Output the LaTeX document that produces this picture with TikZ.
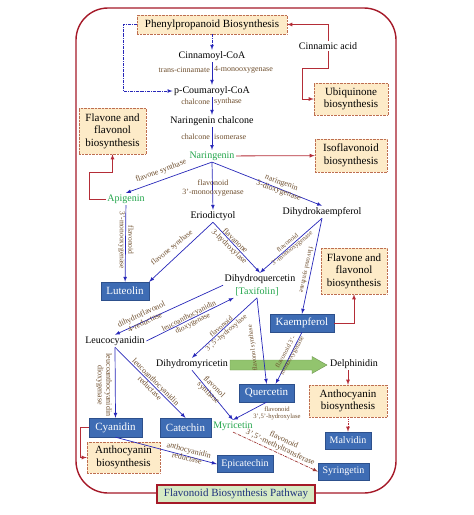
\documentclass[tikz,border=0pt]{standalone}
\usepackage{fontspec}
\setmainfont{Liberation Serif}
\usetikzlibrary{arrows}

\definecolor{flowblue}{RGB}{40,40,185}
\definecolor{boxblue}{RGB}{62,108,180}
\definecolor{boxline}{RGB}{45,80,140}
\definecolor{yfill}{RGB}{253,235,200}
\definecolor{yline}{RGB}{190,110,80}
\definecolor{redline}{RGB}{180,45,55}
\definecolor{enzcol}{RGB}{110,78,45}
\definecolor{txtgreen}{RGB}{35,165,75}
\definecolor{garrfill}{RGB}{146,196,110}
\definecolor{garrline}{RGB}{110,150,80}
\definecolor{pathfill}{RGB}{214,234,196}
\definecolor{pathtext}{RGB}{30,50,125}
\definecolor{outred}{RGB}{165,25,40}

\begin{document}
\begin{tikzpicture}[x=1pt,y=-1pt,>=latex,
    cmpd/.style={font=\fontsize{10}{11}\selectfont,inner sep=1.5pt},
    grn/.style={cmpd,text=txtgreen},
    bbox/.style={draw=boxline,fill=boxblue,text=white,font=\fontsize{11}{12}\selectfont,minimum height=18pt,inner sep=0pt},
    sbox/.style={bbox,font=\fontsize{10}{11}\selectfont,minimum height=17pt},
    ybox/.style={draw=yline,densely dotted,fill=yfill,align=center,font=\fontsize{11}{12.5}\selectfont,inner sep=0pt},
    enz/.style={text=enzcol,font=\fontsize{8}{8.5}\selectfont,align=center,inner sep=0pt},
    senz/.style={enz,font=\fontsize{6.6}{7.2}\selectfont},
    flow/.style={->,draw=flowblue,line width=0.7pt},
    dflow/.style={flow,densely dash dot},
    rflow/.style={->,draw=redline,line width=0.8pt},
    mflow/.style={->,draw=redline!70!enzcol,line width=0.7pt,densely dash dot}]
    \useasboundingbox (0,0) rectangle (474,515);

    % Cadre
    \draw[outred,line width=1.4pt,rounded corners=32pt] (76,8) rectangle (396,493);

    % Grosse fleche verte
    \draw[draw=garrline,fill=garrfill] (230,360) -- (312,360) -- (312,356.5) -- (327,365)
        -- (312,373.5) -- (312,370) -- (230,370) -- cycle;

    % Boites jaunes
    \node[ybox,minimum width=150pt,minimum height=19pt] (php) at (212,24.5) {Phenylpropanoid Biosynthesis};
    \node[ybox,minimum width=74pt,minimum height=32pt] (ubi) at (351,99) {Ubiquinone\\biosynthesis};
    \node[ybox,minimum width=67pt,minimum height=46pt] (ffl) at (112.5,131) {Flavone and\\flavonol\\biosynthesis};
    \node[ybox,minimum width=72pt,minimum height=33pt] (iso) at (351,155.5) {Isoflavonoid\\biosynthesis};
    \node[ybox,minimum width=66pt,minimum height=46pt] (ffr) at (354,271) {Flavone and\\flavonol\\biosynthesis};
    \node[ybox,minimum width=78pt,minimum height=32pt] (antr) at (348,401) {Anthocyanin\\biosynthesis};
    \node[ybox,minimum width=73pt,minimum height=31pt] (antl) at (123.5,457.5) {Anthocyanin\\biosynthesis};

    % Composes
    \node[cmpd] (cina) at (328,46) {Cinnamic acid};
    \node[cmpd] (cin) at (212,56) {Cinnamoyl-CoA};
    \node[cmpd] (cou) at (212,91) {p-Coumaroyl-CoA};
    \node[cmpd] (nch) at (212,121) {Naringenin chalcone};
    \node[grn] (nar) at (212,156) {Naringenin};
    \node[grn] (api) at (126,199) {Apigenin};
    \node[cmpd] (eri) at (213,216) {Eriodictyol};
    \node[cmpd] (dhk) at (322,212) {Dihydrokaempferol};
    \node[cmpd] (dhq) at (260,279) {Dihydroquercetin};
    \node[grn] (tax) at (257,292) {[Taxifolin]};
    \node[cmpd] (leu) at (115,341) {Leucocyanidin};
    \node[cmpd] (dhm) at (192,364) {Dihydromyricetin};
    \node[cmpd] (del) at (354,364) {Delphinidin};
    \node[grn] (myr) at (233,426) {Myricetin};

    % Boites bleues
    \node[bbox,minimum width=48pt] (lut) at (125,291) {Luteolin};
    \node[bbox,minimum width=64pt] (kae) at (302,323) {Kaempferol};
    \node[bbox,minimum width=55pt] (que) at (266.5,393) {Quercetin};
    \node[bbox,minimum width=53pt,minimum height=19pt] (cya) at (115.5,427.5) {Cyanidin};
    \node[bbox,minimum width=51pt,minimum height=19pt] (cat) at (185.5,427.5) {Catechin};
    \node[sbox,minimum width=56pt] (epi) at (245,464) {Epicatechin};
    \node[sbox,minimum width=46pt] (mal) at (348,440.5) {Malvidin};
    \node[sbox,minimum width=51pt] (syr) at (343.5,471.5) {Syringetin};

    % Voie bleue
    \draw[dflow] (php) -- (cin);
    \draw[dflow] (php.west) -- ++(-13,0) |- (cou.west);
    \draw[flow] (cin) -- (cou);
    \draw[flow] (cou) -- (nch);
    \draw[flow] (nch) -- (nar);
    \draw[flow] (nar.south) -- (api.north);
    \draw[flow] (nar.south) -- (eri.north);
    \draw[flow] (nar.south) -- (dhk.north);
    \draw[flow] (api) -- (lut);
    \draw[flow] (eri.south) -- (lut.north east);
    \draw[flow] (eri.south) -- (dhq.north);
    \draw[flow] (dhk.south) -- (dhq.north);
    \draw[flow] (dhk.south) -- (kae.north);
    \draw[flow] (dhq.south west) -- (leu.north);
    \draw[flow] (leu.east) -- (tax.south west);
    \draw[flow] (tax.south) -- (dhm.north);
    \draw[flow] (tax.south) -- (que.north);
    \draw[flow] (kae.south) -- (que.45);
    \draw[flow] (dhm.south) -- (myr.north);
    \draw[flow] (que.south) -- (myr.north);
    \draw[flow] (leu.south) -- (cya.north);
    \draw[flow] (leu.south) -- (cat.north);
    \draw[flow] (cya.south) -- (epi.west);

    % Fleches rouges
    \draw[rflow] (cina.north) |- (php.east);
    \draw[rflow] (cina.south) |- (302,68) |- (ubi.west);
    \draw[rflow] (nar) -- (iso);
    \draw[rflow] (api.west) -| (89,172) -| (ffl.south);
    \draw[rflow] (kae.east) -| (ffr.south);
    \draw[rflow] (cya.west) -- ++(-8,0) |- (antl.west);
    \draw[rflow] (antr.north |- del.south) -- (antr.north);
    \draw[rflow,densely dotted] (antr) -- (mal);
    \draw[mflow] (myr.south) -- (syr.west);

    % Enzymes
    \node[enz,anchor=east] (e1a) at (210,70) {trans-cinnamate};
    \node[enz,anchor=west] (e1b) at (214,70) {4-monooxygenase};
    \node[enz,anchor=east] (e2a) at (210,102) {chalcone};
    \node[enz,anchor=west] (e2b) at (214,102) {synthase};
    \node[enz,anchor=east] (e3a) at (210,137) {chalcone};
    \node[enz,anchor=west] (e3b) at (214,137) {isomerase};
    \node[enz,rotate=20] (e4) at (161,171) {flavone synthase};
    \node[enz] (e5) at (213,188) {flavonoid\\3'-monooxygenase};
    \node[enz,rotate=-19.5] (e6) at (280,187) {naringenin\\3-dioxygenase};
    \node[enz,font=\fontsize{7.5}{8.5}\selectfont,rotate=-90] (e7) at (126,240) {flavonoid\\3'-monooxygenase};
    \node[enz,font=\fontsize{7.6}{8}\selectfont,rotate=39] (e8) at (172,248) {flavone synthase};
    \node[enz,rotate=-44] (e9) at (232,244) {flavanone\\3-hydroxylase};
    \node[senz,rotate=39] (e10) at (290,246) {flavonoid\\3'-monooxygenase};
    \node[senz,rotate=-102] (e11) at (306,270) {flavonol synthase};
    \node[enz,rotate=25] (e12) at (143,318) {dihydroflavonol\\4-reductase};
    \node[enz,font=\fontsize{7.6}{8}\selectfont,rotate=27] (e13) at (191,320) {leucoanthocyanidin\\dioxygenase};
    \node[enz,font=\fontsize{7.2}{7.8}\selectfont,rotate=40.6] (e14) at (224,330) {flavonoid\\3',5'-hydroxylase};
    \node[senz,rotate=97] (e15) at (253,348) {flavonol synthase};
    \node[senz,rotate=61] (e16) at (289,354) {flavonoid 3'-\\monooxygenase};
    \node[enz,rotate=-44] (e17) at (211,390) {flavonol\\synthase};
    \node[senz] (e18) at (277,413) {flavonoid\\3',5'-hydroxylase};
    \node[enz,rotate=-25] (e19) at (282,444) {flavonoid\\3',5'-methyltransferase};
    \node[enz,rotate=-90] (e20) at (104,385) {leucoanthocyanidin\\dioxygenase};
    \node[enz,rotate=-45] (e21) at (153,385) {leucoanthocyanidin\\reductase};
    \node[enz,rotate=-14] (e22) at (188,454) {anthocyanidin\\reductase};

    % Titre
    \node[draw=outred,line width=1.8pt,fill=pathfill,text=pathtext,font=\fontsize{11}{12}\selectfont,
        minimum width=158pt,minimum height=18pt,inner sep=0pt] (path) at (236,494) {Flavonoid Biosynthesis Pathway};
\end{tikzpicture}
\end{document}
